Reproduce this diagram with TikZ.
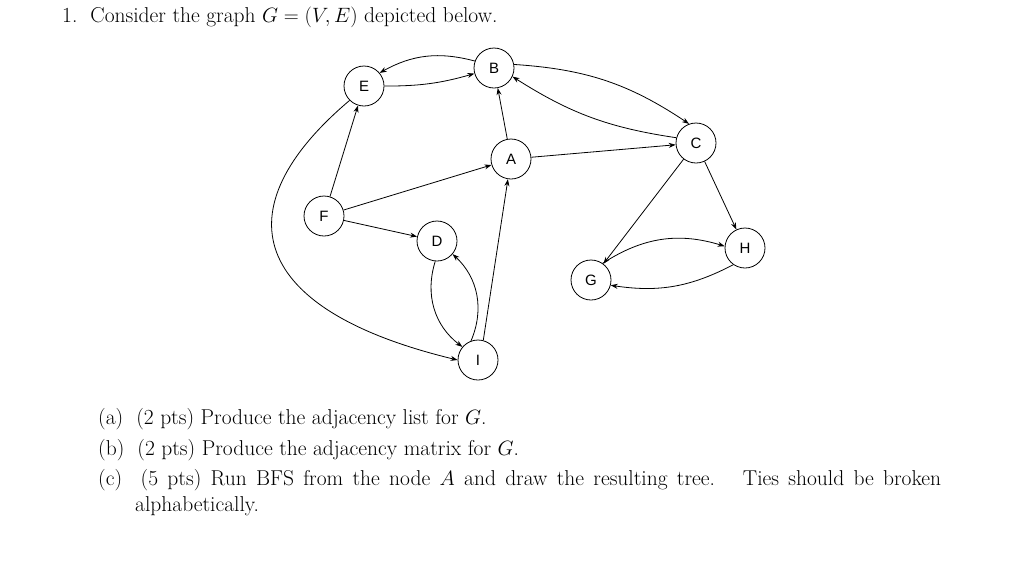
\documentclass[tikz,border=0pt]{standalone}
\usepackage{fontspec}
\newfontfamily\nodefont{Liberation Sans}
\usetikzlibrary{arrows.meta}
\begin{document}
\begin{tikzpicture}[x=1pt,y=-1pt,
  v/.style={circle,draw,line width=0.8pt,minimum size=40pt,inner sep=0pt,font=\nodefont\fontsize{15}{17}\selectfont},
  e/.style={-{Stealth[length=7pt,width=5pt]},line width=0.8pt},
  t/.style={anchor=base west,inner sep=0pt,font=\fontsize{21.5}{25}\selectfont}]
\useasboundingbox (0,0) rectangle (1024,563);
\node[v] (E) at (364,86) {E};
\node[v] (B) at (494,68) {B};
\node[v] (A) at (511,159) {A};
\node[v] (C) at (696,143) {C};
\node[v] (F) at (324,216) {F};
\node[v] (D) at (437,241) {D};
\node[v] (H) at (745,248) {H};
\node[v] (G) at (591,280) {G};
\node[v] (I) at (478,360) {I};
\draw[e] (B.160) to[bend right=22] (E.40);
\draw[e] (E) to[bend right=8] (B);
\draw[e] (A) -- (B);
\draw[e] (B.10) to[bend left=15] (C.110);
\draw[e] (C.165) to[bend left=12] (B.335);
\draw[e] (A) -- (C);
\draw[e] (F) -- (E);
\draw[e] (F) -- (A);
\draw[e] (F) -- (D);
\draw[e] (E.225) .. controls (220,210) and (250,310) .. (I.west);
\draw[e] (D.265) to[bend right=35] (I.140);
\draw[e] (I.110) to[bend right=35] (D.320);
\draw[e] (I.75) -- (A);
\draw[e] (C) -- (G);
\draw[e] (C) -- (H);
\draw[e] (G.55) to[bend left=25] (H.175);
\draw[e] (H.235) to[bend left=18] (G.345);
\node[t] (q) at (62,22) {1.\ \ Consider the graph $G=(V,E)$ depicted below.};
\node[t] (a) at (98,424) {(a)\ \ (2 pts) Produce the adjacency list for $G$.};
\node[t] (b) at (98,455) {(b)\ \ (2 pts) Produce the adjacency matrix for $G$.};
\node[t,anchor=west] (c) at (98,480) {\makebox[843pt][s]{(c)\ \ (5 pts) Run BFS from the node $A$ and draw the resulting tree.\ \ \ Ties should be broken}};
\node[t] (c2) at (135,511) {alphabetically.};
\end{tikzpicture}
\end{document}
